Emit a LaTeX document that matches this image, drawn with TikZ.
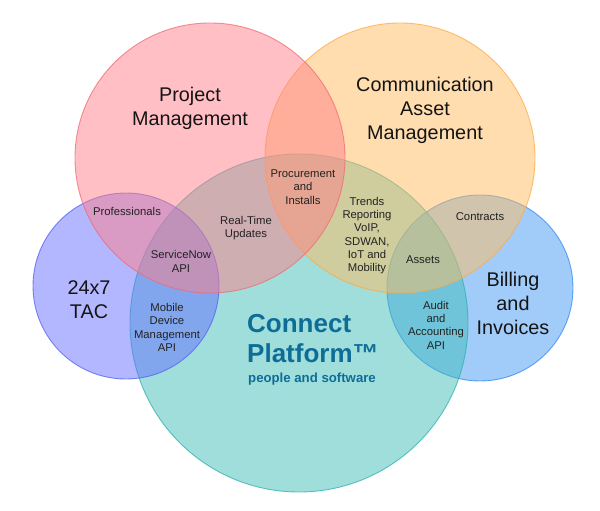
\documentclass[tikz,border=0pt]{standalone}
\usepackage{fontspec}
\setmainfont{Liberation Sans}
\definecolor{pmcol}{HTML}{FF7F8A}
\definecolor{pmline}{HTML}{F06A74}
\definecolor{camcol}{HTML}{FFBC60}
\definecolor{camline}{HTML}{FFAA44}
\definecolor{cpcol}{HTML}{40BDB8}
\definecolor{cpline}{HTML}{2FB0AE}
\definecolor{taccol}{HTML}{6670FF}
\definecolor{tacline}{HTML}{5560F0}
\definecolor{bilcol}{HTML}{4399F5}
\definecolor{billine}{HTML}{3388F0}
\definecolor{cptext}{HTML}{0E6D96}
\definecolor{smalltext}{HTML}{222222}
\tikzset{
  venn/.style={fill opacity=0.5, draw opacity=0.75, line width=0.9pt},
  bigtext/.style={align=center, text=black!92, font=\fontsize{19.8}{24}\selectfont},
  smalltext/.style={align=center, text=smalltext, font=\fontsize{11.3}{13.3}\selectfont}
}
\begin{document}
\begin{tikzpicture}[x=1pt,y=-1pt]
	\useasboundingbox (0,0) rectangle (600,511);
	\coordinate (pm) at (210,158);
	\coordinate (cam) at (400,158);
	\coordinate (cp) at (299,323);
	\coordinate (tac) at (126,286);
	\coordinate (bil) at (480,288);

	% back to front
	\filldraw[venn, fill=bilcol, draw=billine] (bil) circle (93pt);
	\filldraw[venn, fill=cpcol, draw=cpline] (cp) circle (169pt);
	\filldraw[venn, fill=taccol, draw=tacline] (tac) circle (93pt);
	\filldraw[venn, fill=camcol, draw=camline] (cam) circle (135pt);
	\filldraw[venn, fill=pmcol, draw=pmline] (pm) circle (135pt);

	\node[bigtext] (pmlabel) at (190,108) {Project\\Management};
	\node[bigtext] (camlabel) at (425,110) {Communication\\Asset\\Management};
	\node[bigtext] (taclabel) at (89,300) {24x7\\TAC};
	\node[bigtext] (billabel) at (513,303) {Billing\\and\\Invoices};

	\node[anchor=west, align=left, text=cptext, font=\bfseries\fontsize{26}{30}\selectfont, inner sep=0pt] (cplabel) at (247,339) {Connect\\Platform™};
	\node[anchor=west, text=cptext, font=\bfseries\fontsize{13.2}{15}\selectfont, inner sep=0pt] (cpsub) at (248,379) {people and software};

	\node[smalltext] (professionals) at (127,211) {Professionals};
	\node[smalltext] (realtime) at (246,228) {Real-Time\\Updates};
	\node[smalltext] (procurement) at (303,187) {Procurement\\and\\Installs};
	\node[smalltext] (trends) at (367,235.5) {Trends\\Reporting\\VoIP,\\SDWAN,\\IoT and\\Mobility};
	\node[smalltext] (contracts) at (480,217) {Contracts};
	\node[smalltext] (assets) at (423,260) {Assets};
	\node[smalltext] (servicenow) at (181,261.5) {ServiceNow\\API};
	\node[smalltext] (mobile) at (167,327.5) {Mobile\\Device\\Management\\API};
	\node[smalltext] (audit) at (436,325) {Audit\\and\\Accounting\\API};
\end{tikzpicture}
\end{document}
